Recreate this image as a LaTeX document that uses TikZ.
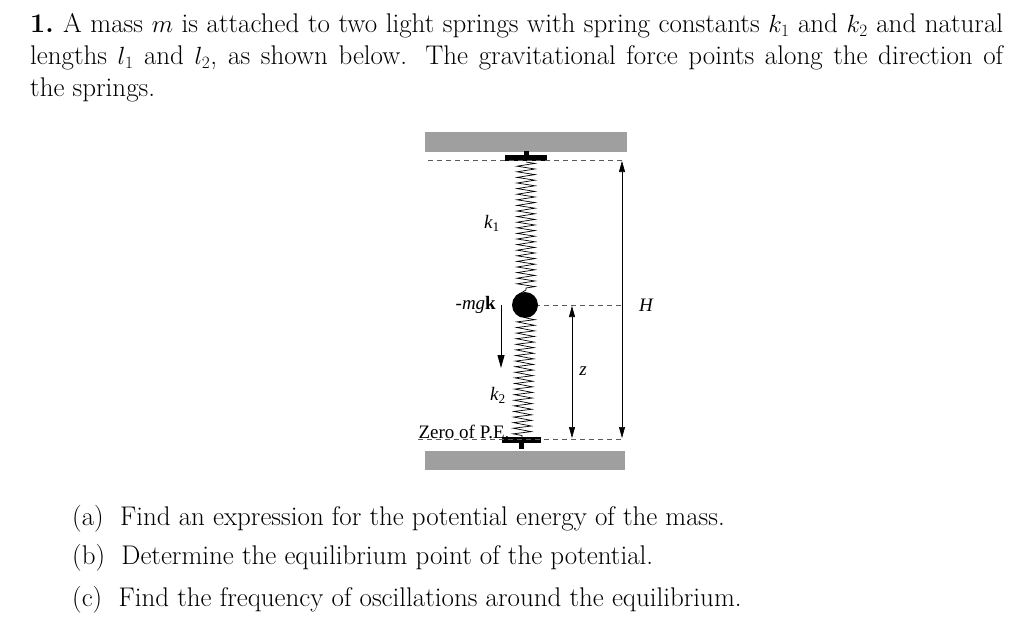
\documentclass[tikz,border=0pt]{standalone}
\usepackage{fontspec}
\newfontfamily\tms{Liberation Serif}
\usetikzlibrary{decorations.pathmorphing,arrows.meta}
\begin{document}
\begin{tikzpicture}[x=1pt,y=-1pt,
  bar/.style={fill=gray!75,draw=none},
  plate/.style={fill=black,draw=none},
  dsh/.style={gray!70!black,dashed,dash pattern=on 5pt off 4pt,line width=0.7pt},
  spr/.style={decorate,decoration={zigzag,segment length=#1,amplitude=9pt},line width=0.7pt},
  dim/.style={line width=0.6pt,{Triangle[length=11pt,width=6pt]}-{Triangle[length=11pt,width=6pt]}},
  lab/.style={font=\tms\fontsize{19}{21}\selectfont,inner sep=0pt},
  body/.style={font=\fontsize{27}{32}\selectfont,inner sep=0pt,anchor=north west}]
\useasboundingbox (0,0) rectangle (1021,637);
\node[body,text width=973pt,align=justify] (q) at (30,13) {\hangindent=33pt\hangafter=1\makebox[33pt][l]{\textbf{1.}}A mass $m$ is attached to two light springs with spring constants $k_1$ and $k_2$ and natural lengths $l_1$ and $l_2$, as shown below. The gravitational force points along the direction of\linebreak the springs.};
\node[body] (a) at (72,505) {(a)\ \ Find an expression for the potential energy of the mass.};
\node[body] (b) at (72,544) {(b)\ \ Determine the equilibrium point of the potential.};
\node[body] (c) at (72,586) {(c)\ \ Find the frequency of oscillations around the equilibrium.};
% bars
\fill[bar] (425,132) rectangle (627,152);
\fill[bar] (425,451) rectangle (625,470);
\fill[plate] (505,155) rectangle (547,161);
\fill[plate] (524,151) rectangle (529,156);
\fill[plate] (502,437) rectangle (541,443);
\fill[plate] (519,442) rectangle (524,449);
% dashed
\draw[dsh] (428,160) -- (622,160);
\draw[dsh] (526,305) -- (622,305);
\draw[dsh] (418,439) -- (622,439);
% springs
\coordinate (s1a) at (526,162);
\coordinate (s1b) at (526,290);
\coordinate (s2a) at (526,318);
\coordinate (s2b) at (522,437);
\draw[spr=5.6pt] (s1a) -- (s1b);
\draw[line width=0.7pt] (s1b) -- (516,296);
\draw[spr=5.6pt] (s2a) -- (s2b);
\node[circle,fill=black,minimum size=26pt,inner sep=0pt] (m) at (525,305) {};
% arrows
\coordinate (Ht) at (622,161); \coordinate (Hb) at (622,438);
\draw[dim] (Ht) -- (Hb);
\coordinate (zt) at (572,306); \coordinate (zb) at (572,438);
\draw[dim] (zt) -- (zb);
\coordinate (ga) at (501,305); \coordinate (gb) at (501,368);
\draw[line width=1pt,-{Triangle[length=13pt,width=7pt]}] (ga) -- (gb);
\node[lab] (H) at (646,305) {\itshape H};
\node[lab] (z) at (583,371) {\itshape z};
\node[lab,anchor=east] (g) at (496,305) {\itshape -mg\bfseries\upshape k};
\node[lab] (k1) at (492,223) {\itshape k\textsubscript{\upshape 1}};
\node[lab] (k2) at (498,395) {\itshape k\textsubscript{\upshape 2}};
\node[lab] (z0) at (464,432) {Zero of P.E.};
\end{tikzpicture}
\end{document}
